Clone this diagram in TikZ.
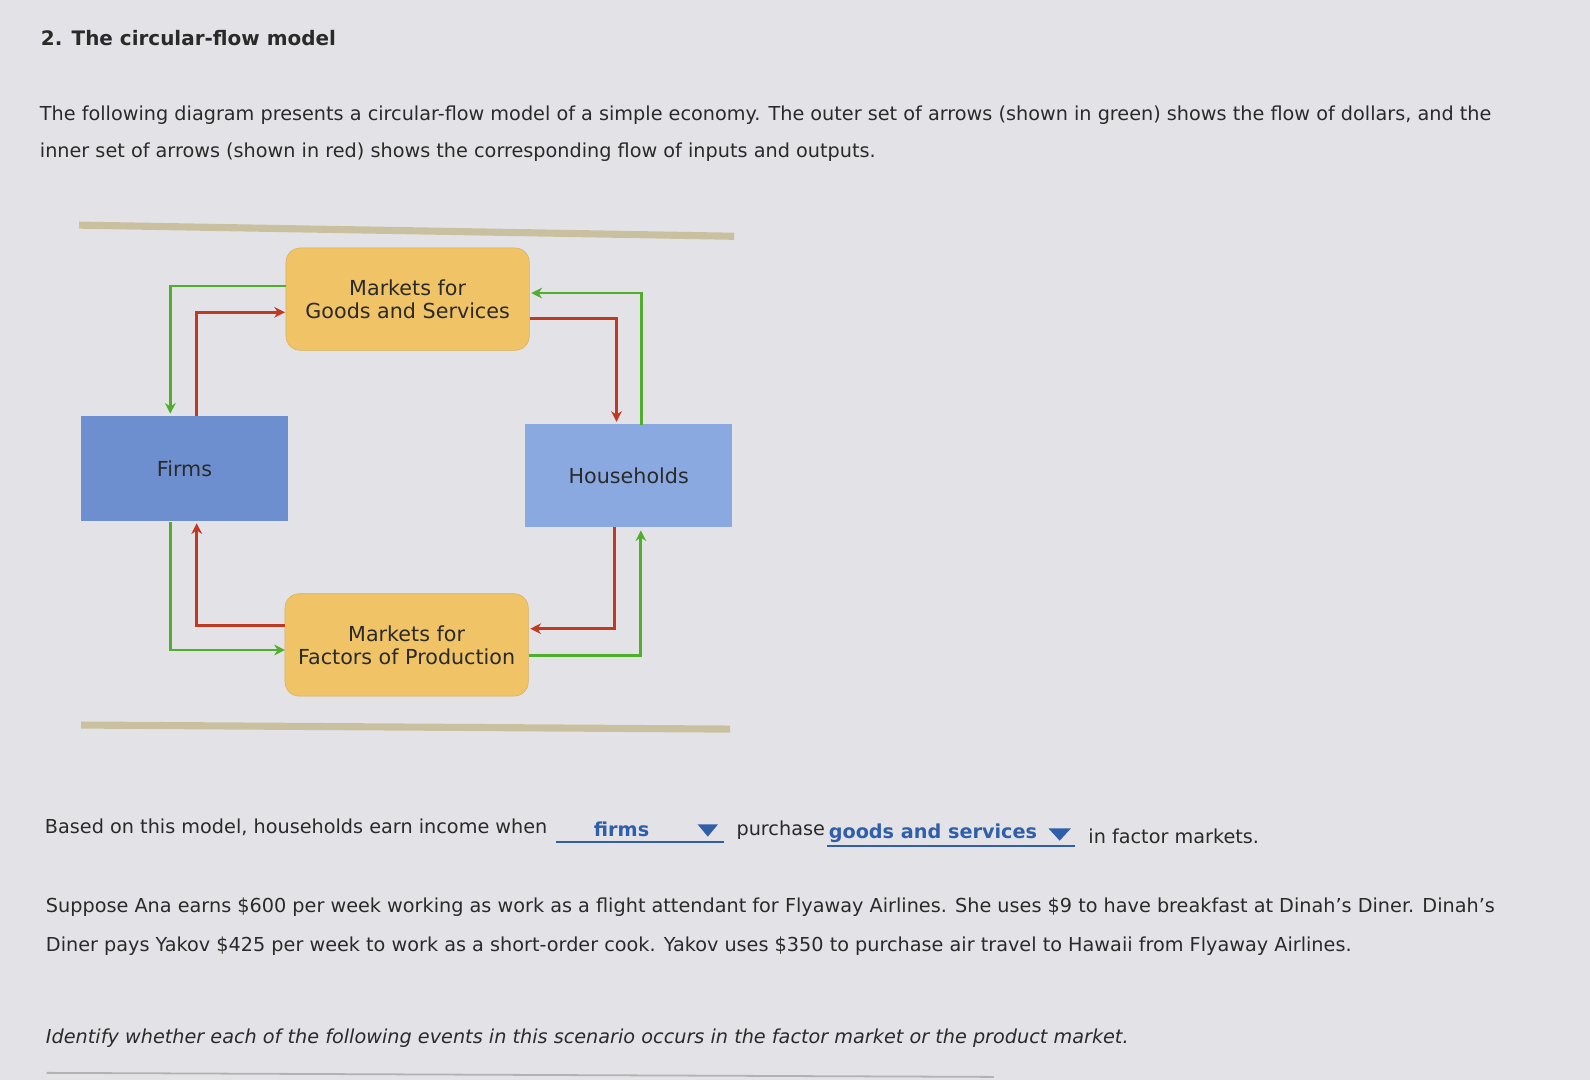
\documentclass[tikz,border=0pt]{standalone}
\usepackage{fontspec}
\setmainfont{DejaVu Sans}
\usetikzlibrary{arrows.meta}
\definecolor{bg}{HTML}{E3E3E7}
\definecolor{tan}{HTML}{C9C0A0}
\definecolor{gold}{HTML}{F0C466}
\definecolor{firm}{HTML}{6E8FCF}
\definecolor{hh}{HTML}{8AA9E0}
\definecolor{gr}{HTML}{4FAE2C}
\definecolor{rd}{HTML}{C03A22}
\definecolor{lnk}{HTML}{2E5FA8}
\definecolor{txt}{HTML}{2A2A2A}
\tikzset{
 mk/.style={draw=gold!90!black,line width=0.3pt,fill=gold,rounded corners=8pt,minimum width=4.8cm,minimum height=2.02cm,align=center,font=\fontsize{11.6}{13}\selectfont,text=txt},
 ag/.style={rectangle,fill=firm,minimum width=4.08cm,minimum height=2.06cm,font=\fontsize{11.6}{12}\selectfont,text=txt},
 gf/.style={draw=gr,line width=1.6pt,-{Stealth[length=6pt,width=6pt]}},
 rf/.style={draw=rd,line width=1.6pt,-{Stealth[length=6pt,width=6pt]}},
 body/.style={anchor=west,font=\fontsize{10.8}{12}\selectfont,text=txt,inner sep=0pt},
 dd/.style={fill=lnk,draw=none},
}
\begin{document}
\begin{tikzpicture}[x=0.02cm,y=-0.02cm]
\fill[bg] (0,0) rectangle (1568,1065);
\useasboundingbox (0,0) rectangle (1568,1065);
\node[anchor=west,inner sep=0pt,font=\bfseries\fontsize{11.2}{12}\selectfont,text=txt] (title) at (40,38) {2. The circular-flow model};
\node[body] (p1) at (39,114) {The following diagram presents a circular-flow model of a simple economy. The outer set of arrows (shown in green) shows the flow of dollars, and the};
\node[body] (p2) at (39,150) {inner set of arrows (shown in red) shows the corresponding flow of inputs and outputs.};
\draw[tan,line width=4pt] (78,222) -- (724,233);
\draw[tan,line width=4pt] (80,715) -- (720,719);
\node[mk] (goods) at (402,295) {Markets for\\Goods and Services};
\node[mk] (fact) at (401,636) {Markets for\\Factors of Production};
\node[ag] (firms) at (182,462) {Firms};
\node[ag,fill=hh,minimum height=2.02cm] (hh) at (620,469) {Households};
\draw[gf] (goods.west|-0,282) -- (168,282) -- (168,408);
\draw[rf] (194,410) -- (194,308) -- (281,308);
\draw[rf] (goods.east|-0,314) -- (608,314) -- (608,416);
\draw[gf] (633,419) -- (633,289) -- (524,289);
\draw[rf] (fact.west|-0,617) -- (194,617) -- (194,516);
\draw[gf] (168,515) -- (168,641) -- (281,641);
\draw[rf] (606,520) -- (606,620) -- (523,620);
\draw[gf] (fact.east|-0,646) -- (632,646) -- (632,523);
\node[body] (q1) at (44,816) {Based on this model, households earn income when};
\node[font=\bfseries\fontsize{10.8}{12}\selectfont,text=lnk] (a1) at (613,818) {firms};
\draw[lnk,line width=1.2pt] (548,830) -- (714,830);
\fill[dd] (688,813) -- (708,813) -- (698,825) -- cycle;
\node[body] (q2) at (726,819) {purchase};
\node[font=\bfseries\fontsize{10.8}{12}\selectfont,text=lnk] (a2) at (920,822) {goods and services};
\draw[lnk,line width=1.2pt] (816,834) -- (1060,834);
\fill[dd] (1034,817) -- (1056,817) -- (1045,829) -- cycle;
\node[body] (q3) at (1073,825) {in factor markets.};
\node[body] (s1) at (45,895) {Suppose Ana earns \$600 per week working as work as a flight attendant for Flyaway Airlines. She uses \$9 to have breakfast at Dinah's Diner. Dinah's};
\node[body] (s2) at (45,933) {Diner pays Yakov \$425 per week to work as a short-order cook. Yakov uses \$350 to purchase air travel to Hawaii from Flyaway Airlines.};
\node[body,font=\itshape\fontsize{10.8}{12}\selectfont] (s3) at (45,1024) {Identify whether each of the following events in this scenario occurs in the factor market or the product market.};
\draw[gray!60,line width=1pt] (46,1058) -- (980,1062);
\end{tikzpicture}
\end{document}
